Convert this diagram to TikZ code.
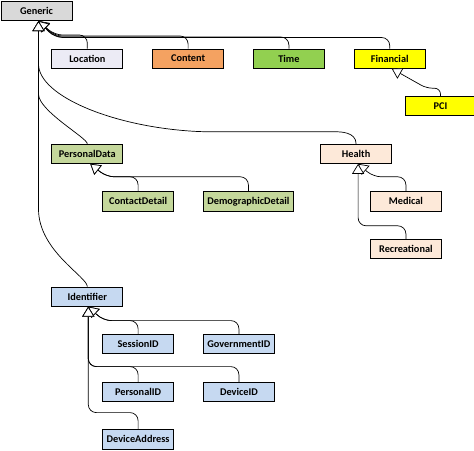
\documentclass[tikz,border=0pt]{standalone}
\usepackage{fontspec}
\setmainfont{Carlito}
\usetikzlibrary{positioning,arrows.meta}

\definecolor{cgeneric}{HTML}{D9D9D9}
\definecolor{clocation}{HTML}{ECEBF5}
\definecolor{ccontent}{HTML}{F4A261}
\definecolor{ctime}{HTML}{92D050}
\definecolor{cfinancial}{HTML}{FFFF00}
\definecolor{cpersonal}{HTML}{C4D79B}
\definecolor{chealth}{HTML}{FDE9D9}
\definecolor{cident}{HTML}{C6D9F1}

\tikzset{
  cls/.style={draw, line width=0.8pt, minimum width=71pt, minimum height=19.2pt,
    inner sep=0pt, font=\bfseries\fontsize{10.3}{12}\selectfont, text=black},
  isa/.style={draw, line width=0.7pt, rounded corners=8pt,
    -{Triangle[open, fill=white, length=10pt, width=12pt]}},
}

\begin{document}
\begin{tikzpicture}
\useasboundingbox (0,0) rectangle (474pt,-450pt);

\node[cls, fill=cgeneric, anchor=north west] (generic) at (0.6pt,-1pt) {Generic};
\node[cls, fill=clocation] (location) [below right=27.6pt and -21pt of generic] {Location};
\node[cls, fill=ccontent] (content) [right=29pt of location] {Content};
\node[cls, fill=ctime] (time) [right=29pt of content] {Time};
\node[cls, fill=cfinancial] (financial) [right=29pt of time] {Financial};
\node[cls, fill=cfinancial] (pci) [below right=27.6pt and -21pt of financial] {PCI};

\node[cls, fill=cpersonal] (personaldata) [below=75.2pt of location] {PersonalData};
\node[cls, fill=cpersonal] (contactdetail) [below right=27.6pt and -21pt of personaldata] {ContactDetail};
\node[cls, fill=cpersonal, minimum width=90pt] (demographicdetail) [right=29pt of contactdetail] {DemographicDetail};

\node[cls, fill=chealth] (health) [right=197pt of personaldata] {Health};
\node[cls, fill=chealth] (medical) [below right=27.6pt and -22pt of health] {Medical};
\node[cls, fill=chealth] (recreational) [below=27.6pt of medical] {Recreational};

\node[cls, fill=cident] (identifier) [below=122.8pt of personaldata] {Identifier};
\node[cls, fill=cident] (sessionid) [below right=27.6pt and -21pt of identifier] {SessionID};
\node[cls, fill=cident] (governmentid) [right=29pt of sessionid] {GovernmentID};
\node[cls, fill=cident] (personalid) [below=27.6pt of sessionid] {PersonalID};
\node[cls, fill=cident] (deviceid) [right=29pt of personalid] {DeviceID};
\node[cls, fill=cident] (deviceaddress) [below=27.6pt of personalid] {DeviceAddress};

% tips and bends of the generalisations
\coordinate (gtip) at ([xshift=2pt]generic.south);
\coordinate (gjoin) at ([shift={(16pt,-14pt)}]gtip);
\coordinate (pdtip) at ([xshift=3pt]personaldata.south);
\coordinate (pdjoin) at ([shift={(16pt,-13pt)}]pdtip);
\coordinate (htip) at ([xshift=2pt]health.south);
\coordinate (hjoin) at ([shift={(15pt,-13pt)}]htip);
\coordinate (itip) at ([xshift=1pt]identifier.south);
\coordinate (ijoin) at ([shift={(15pt,-14pt)}]itip);

\draw[isa] (location.north) |- (gjoin) -- (gtip);
\draw[isa] (content.north) |- ([yshift=-1pt]gjoin) -- (gtip);
\draw[isa] (time.north) |- ([yshift=-2pt]gjoin) -- (gtip);
\draw[isa] (financial.north) |- ([yshift=-2.5pt]gjoin) -- (gtip);
\draw[isa, rounded corners=6pt] (pci.north) |- ++(-14pt,8pt) -- ([xshift=2pt]financial.south);

\draw[isa] (personaldata.north) .. controls +(0,6pt) and +(0,-25pt) .. ([yshift=-65pt]gtip) -- (gtip);
\draw[isa] (health.north) to[out=90,in=0] ++(-28pt,12pt) -- ++(-125pt,0pt)
  .. controls +(-90pt,5pt) and +(0,-40pt) .. ([yshift=-35pt]gtip) -- (gtip);
\draw[isa] (identifier.north) .. controls +(0,10pt) and +(0,-50pt) .. ([yshift=-180pt]gtip) -- (gtip);

\draw[isa] (contactdetail.north) |- (pdjoin) -- (pdtip);
\draw[isa] (demographicdetail.north) |- (pdjoin) -- (pdtip);

\draw[isa] (medical.north) |- (hjoin) -- (htip);
\draw[isa] (recreational.north) |- ([yshift=-62pt]htip) -- (htip);

\draw[isa] (sessionid.north) |- (ijoin) -- (itip);
\draw[isa] (governmentid.north) |- (ijoin) -- (itip);
\draw[isa] (personalid.north) |- ([yshift=-60pt]itip) -- (itip);
\draw[isa] (deviceid.north) |- ([yshift=-60pt]itip) -- (itip);
\draw[isa] (deviceaddress.north) |- ([yshift=-106pt]itip) -- (itip);

\end{tikzpicture}
\end{document}
